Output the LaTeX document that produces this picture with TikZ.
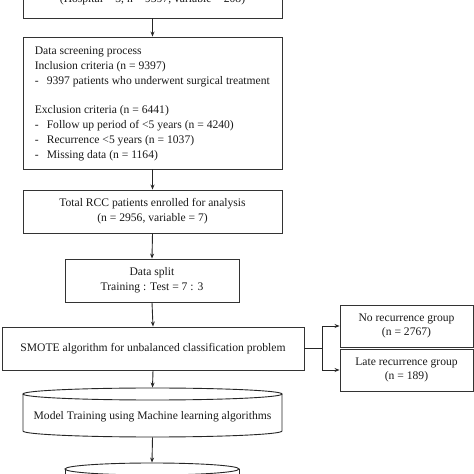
\documentclass[tikz,border=0pt]{standalone}
\usepackage{fontspec}
\setmainfont{Liberation Serif}
\usetikzlibrary{arrows.meta}
\begin{document}
\begin{tikzpicture}[x=1pt,y=1pt,
  line width=0.9pt,
  every node/.style={font=\fontsize{11.6}{14.8}\selectfont, text=black!90},
  box/.style={draw=black!80, rectangle, inner sep=0pt, align=center},
  conn/.style={draw=black!85, line width=0.9pt, -{Stealth[length=5pt,width=4pt]}},
  plain/.style={draw=black!85, line width=0.9pt}]
\useasboundingbox (0,0) rectangle (474,474);
\clip (0,0) rectangle (474,474);
% top box (cut off)
\node[box, minimum width=259pt, minimum height=54pt] (b1) at (152.5,483) {};
\node[anchor=base] (t1) at (152.5,471) {(Hospital = 3, n = 9397, variable = 208)};
% box 2
\node[box, minimum width=259pt, minimum height=132pt] (b2) at (152.5,371) {};
\node[anchor=west, align=left] (t2) at (31,370) {Data screening process\\
Inclusion criteria (n = 9397)\\
\makebox[12pt][l]{-}9397 patients who underwent surgical treatment\\[14.8pt]
Exclusion criteria (n = 6441)\\
\makebox[12pt][l]{-}Follow up period of <5 years (n = 4240)\\
\makebox[12pt][l]{-}Recurrence <5 years (n = 1037)\\
\makebox[12pt][l]{-}Missing data (n = 1164)};
% box 3
\node[box, minimum width=259pt, minimum height=43pt] (b3) at (152.5,262.5) {Total RCC patients enrolled for analysis\\(n = 2956, variable = 7)};
% box 4
\node[box, minimum width=174pt, minimum height=43pt] (b4) at (152,193.5) {Data split\\Training : Test = 7 : 3};
% box 5
\node[box, minimum width=302pt, minimum height=43pt] (b5) at (153,125.5) {SMOTE algorithm for unbalanced classification problem};
% right boxes
\node[box, minimum width=133pt, minimum height=42pt] (r1) at (406.5,148) {No recurrence group\\(n = 2767)};
\node[box, minimum width=133pt, minimum height=42pt] (r2) at (406.5,104) {Late recurrence group\\(n = 189)};
% cylinder 1
\node[inner sep=0pt, minimum width=259pt, minimum height=49pt] (c1) at (152.5,61.5) {};
\draw[plain, fill=white] (23,80) -- (23,43) arc[start angle=180, end angle=360, x radius=129.5, y radius=6] -- (282,80);
\draw[plain] (152.5,80) ellipse[x radius=129.5, y radius=6];
\node[inner sep=0pt] (c1t) at (152.5,57) {Model Training using Machine learning algorithms};
% cylinder 2
\node[inner sep=0pt, minimum width=174pt, minimum height=20pt] (c2) at (152,1) {};
\draw[plain] (65,5) -- (65,-20);
\draw[plain] (239,5) -- (239,-20);
\draw[plain] (152,5) ellipse[x radius=87, y radius=6];
% connectors
\draw[conn] (b1.south) -- (b2.north);
\draw[conn] (b2.south) -- (b3.north);
\draw[conn] (b3.south) -- (b4.north);
\draw[conn] (b4.south) -- (b5.north);
\draw[conn] (b5.south) -- (c1.north);
\draw[conn] (c1.south) -- (c2.north);
\coordinate (j) at (322,125.5);
\draw[plain] (b5.east) -- (j);
\draw[conn] (j) |- (r1.west);
\draw[conn] (j) |- (r2.west);
\end{tikzpicture}
\end{document}
